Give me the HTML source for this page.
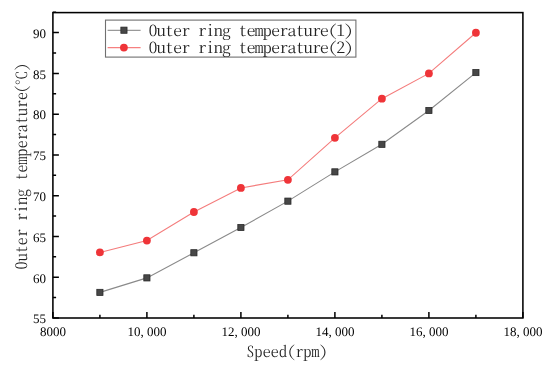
<!DOCTYPE html>
<html><head><meta charset="utf-8"><style>
html,body{margin:0;padding:0;background:#fff;width:550px;height:367px;overflow:hidden}
svg{display:block;text-rendering:geometricPrecision}
.n{font-family:"Liberation Serif", "Noto Serif CJK SC", serif;font-size:13px;fill:#000}
.m{font-family:"Noto Serif CJK SC", "Liberation Mono", monospace;font-size:15px;font-weight:300;fill:#222;font-feature-settings:"hwid"}
</style></head><body>
<svg width="550" height="367" viewBox="0 0 550 367">
<rect x="52.9" y="12.6" width="470.0" height="305.4" fill="none" stroke="#000" stroke-width="1.55"/>
<path d="M52.90 318.00h6 M52.90 297.62h3.2 M52.90 277.23h6 M52.90 256.85h3.2 M52.90 236.46h6 M52.90 216.07h3.2 M52.90 195.69h6 M52.90 175.31h3.2 M52.90 154.92h6 M52.90 134.53h3.2 M52.90 114.15h6 M52.90 93.77h3.2 M52.90 73.38h6 M52.90 53.00h3.2 M52.90 32.61h6 M52.90 12.23h3.2 M52.90 318.00v-6 M99.90 318.00v-3.2 M146.90 318.00v-6 M193.90 318.00v-3.2 M240.90 318.00v-6 M287.90 318.00v-3.2 M334.90 318.00v-6 M381.90 318.00v-3.2 M428.90 318.00v-6 M475.90 318.00v-3.2 M522.90 318.00v-6" stroke="#000" stroke-width="1.5" fill="none"/>
<text x="46" y="323.30" text-anchor="end" class="n">55</text>
<text x="46" y="282.53" text-anchor="end" class="n">60</text>
<text x="46" y="241.76" text-anchor="end" class="n">65</text>
<text x="46" y="200.99" text-anchor="end" class="n">70</text>
<text x="46" y="160.22" text-anchor="end" class="n">75</text>
<text x="46" y="119.45" text-anchor="end" class="n">80</text>
<text x="46" y="78.68" text-anchor="end" class="n">85</text>
<text x="46" y="37.91" text-anchor="end" class="n">90</text>
<text x="52.90" y="335.6" text-anchor="middle" class="n">8000</text>
<text x="146.90" y="335.6" text-anchor="middle" class="n">10, 000</text>
<text x="240.90" y="335.6" text-anchor="middle" class="n">12, 000</text>
<text x="334.90" y="335.6" text-anchor="middle" class="n">14, 000</text>
<text x="428.90" y="335.6" text-anchor="middle" class="n">16, 000</text>
<text x="522.90" y="335.6" text-anchor="middle" class="n">18, 000</text>
<polyline points="99.90,292.40 146.90,277.88 193.90,252.77 240.90,227.49 287.90,201.15 334.90,171.88 381.90,144.32 428.90,110.48 475.90,72.56" fill="none" stroke="#8a8a8a" stroke-width="1.1"/>
<polyline points="99.90,252.44 146.90,240.54 193.90,212.00 240.90,187.94 287.90,179.79 334.90,137.80 381.90,98.66 428.90,73.38 475.90,32.77" fill="none" stroke="#f47c7c" stroke-width="1.1"/>
<rect x="96.80" y="289.30" width="6.2" height="6.2" fill="#474747" stroke="#262626" stroke-width="0.75"/>
<rect x="143.80" y="274.78" width="6.2" height="6.2" fill="#474747" stroke="#262626" stroke-width="0.75"/>
<rect x="190.80" y="249.67" width="6.2" height="6.2" fill="#474747" stroke="#262626" stroke-width="0.75"/>
<rect x="237.80" y="224.39" width="6.2" height="6.2" fill="#474747" stroke="#262626" stroke-width="0.75"/>
<rect x="284.80" y="198.05" width="6.2" height="6.2" fill="#474747" stroke="#262626" stroke-width="0.75"/>
<rect x="331.80" y="168.78" width="6.2" height="6.2" fill="#474747" stroke="#262626" stroke-width="0.75"/>
<rect x="378.80" y="141.22" width="6.2" height="6.2" fill="#474747" stroke="#262626" stroke-width="0.75"/>
<rect x="425.80" y="107.38" width="6.2" height="6.2" fill="#474747" stroke="#262626" stroke-width="0.75"/>
<rect x="472.80" y="69.46" width="6.2" height="6.2" fill="#474747" stroke="#262626" stroke-width="0.75"/>
<circle cx="99.90" cy="252.44" r="3.9" fill="#ef3438"/>
<circle cx="146.90" cy="240.54" r="3.9" fill="#ef3438"/>
<circle cx="193.90" cy="212.00" r="3.9" fill="#ef3438"/>
<circle cx="240.90" cy="187.94" r="3.9" fill="#ef3438"/>
<circle cx="287.90" cy="179.79" r="3.9" fill="#ef3438"/>
<circle cx="334.90" cy="137.80" r="3.9" fill="#ef3438"/>
<circle cx="381.90" cy="98.66" r="3.9" fill="#ef3438"/>
<circle cx="428.90" cy="73.38" r="3.9" fill="#ef3438"/>
<circle cx="475.90" cy="32.77" r="3.9" fill="#ef3438"/>
<rect x="105.5" y="20.1" width="250.4" height="37" fill="#fff" stroke="#707070" stroke-width="1.1"/>
<path d="M107.6 30.3H140.6" stroke="#999" stroke-width="1.3"/>
<rect x="120.85" y="27.1" width="6.2" height="6.2" fill="#474747" stroke="#262626" stroke-width="0.75"/>
<path d="M107.6 47.6H140.6" stroke="#f68080" stroke-width="1.2"/>
<circle cx="123.9" cy="47.6" r="3.9" fill="#ef3438"/>
<text transform="translate(148.4 36.2) scale(1.2 1)" class="m" textLength="170.83" lengthAdjust="spacing">Outer ring temperature(1)</text>
<text transform="translate(148.4 53.4) scale(1.2 1)" class="m" textLength="170.83" lengthAdjust="spacing">Outer ring temperature(2)</text>
<text transform="translate(246.2 357) scale(1.1 1)" class="m" style="font-size:15px" textLength="74.09" lengthAdjust="spacing">Speed(rpm)</text>
<text transform="translate(27.0 269.6) rotate(-90) scale(1.05 1)" class="m" style="font-size:15.5px" textLength="169.14" lengthAdjust="spacing">Outer ring temperature</text>
<text transform="translate(27.0 93.0) rotate(-90)" class="m">(℃)</text>
</svg>
</body></html>
